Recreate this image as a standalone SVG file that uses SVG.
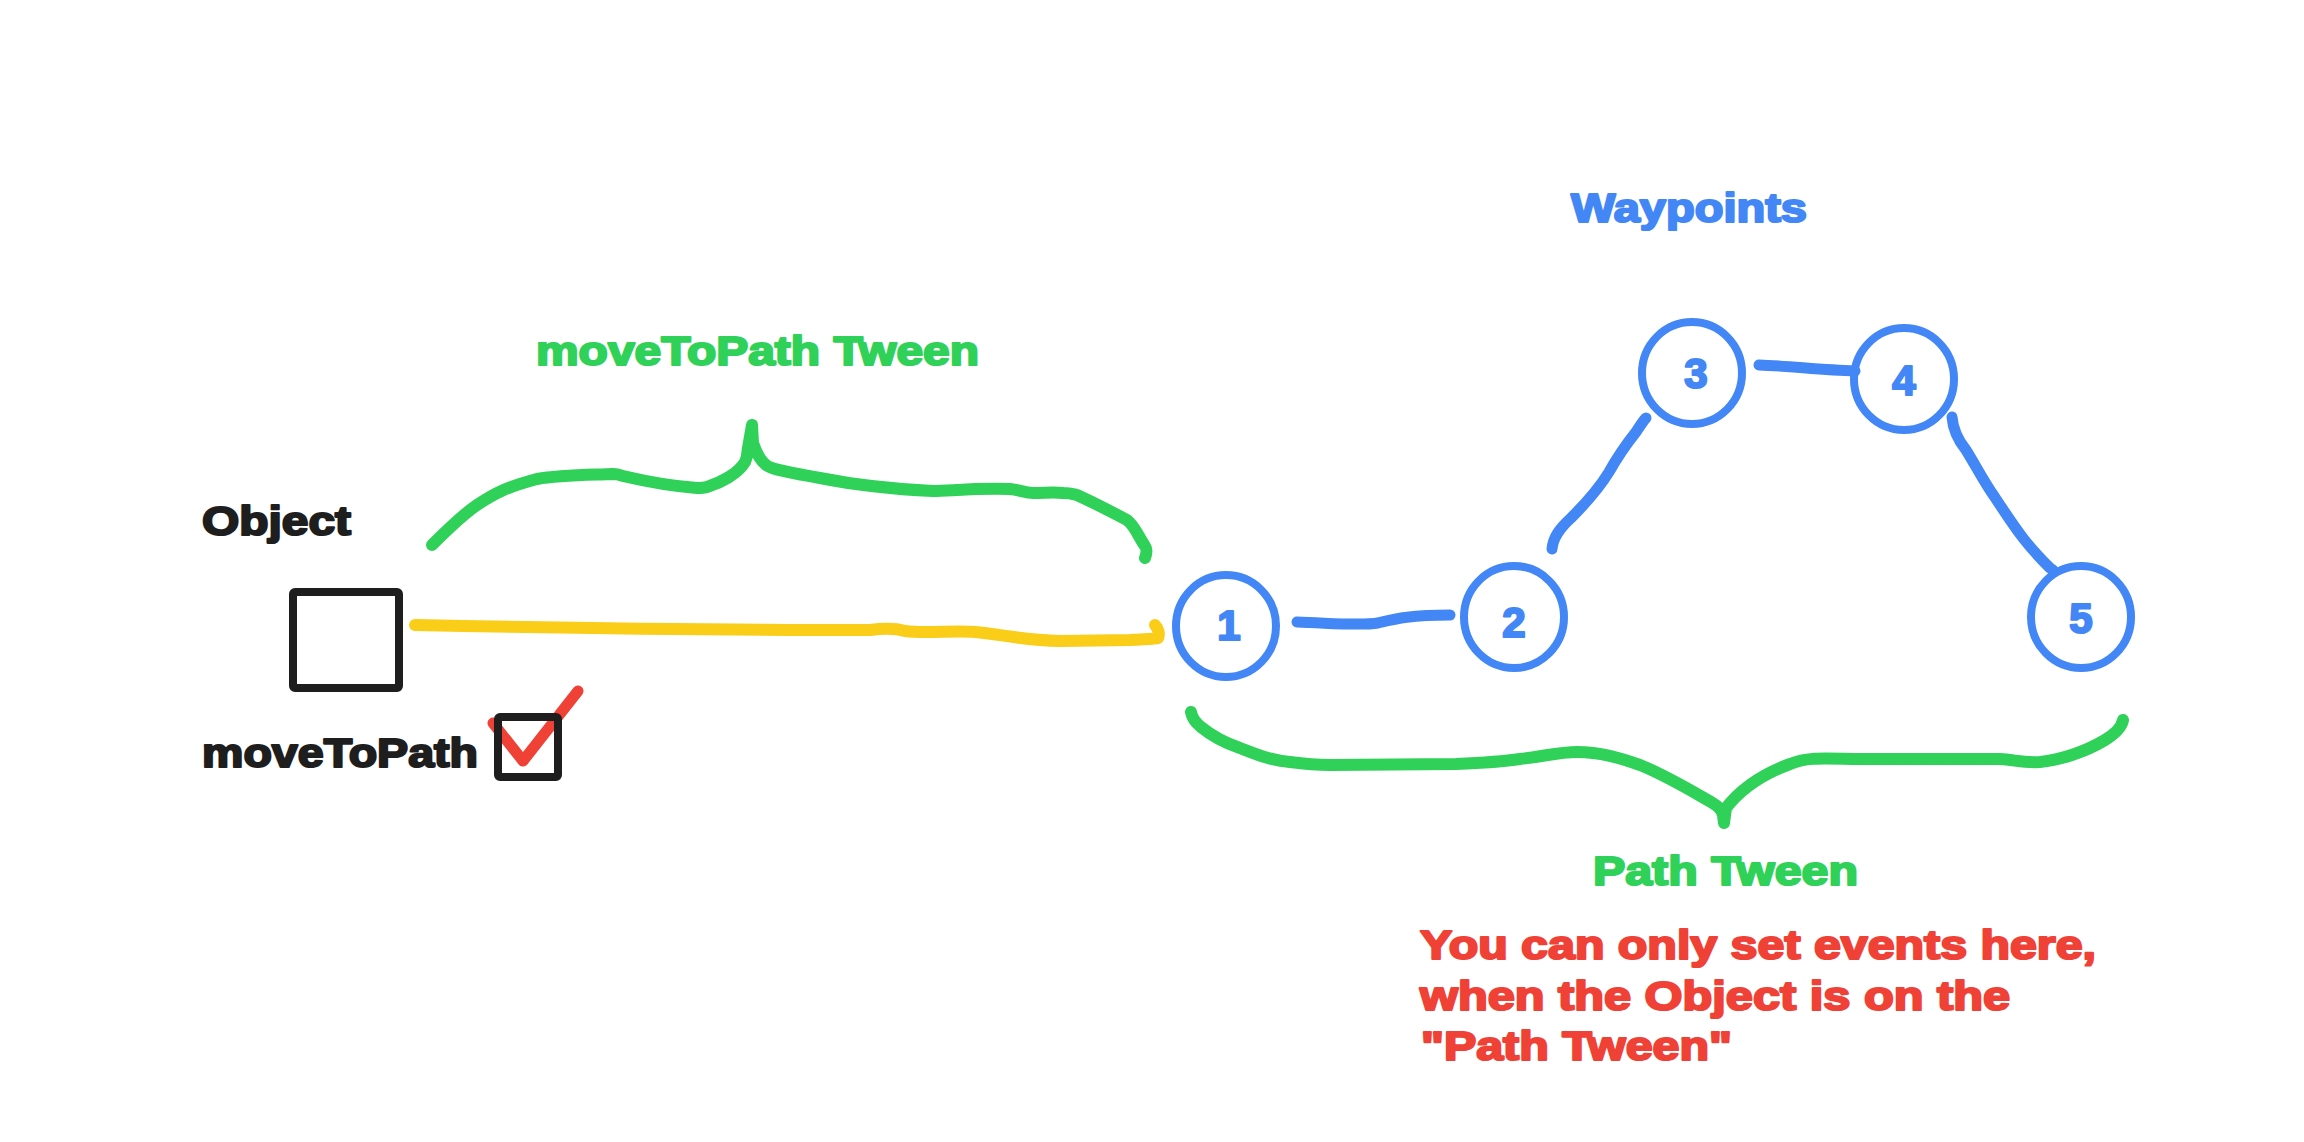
<svg xmlns="http://www.w3.org/2000/svg" width="2304" height="1142" viewBox="0 0 2304 1142">
<style>
.t{font-family:"Liberation Sans",Arial,sans-serif;font-weight:bold;font-size:41px;stroke-width:2.2px;stroke-linejoin:round}
.k{fill:#1e1e1e;stroke:#1e1e1e}
.g{fill:#2fd158;stroke:#2fd158}
.b{fill:#4287f5;stroke:#4287f5}
.r{fill:#ef4136;stroke:#ef4136}
.ring{fill:none;stroke:#4287f5;stroke-width:8}
.ln{fill:none;stroke-linecap:round;stroke-linejoin:round}
.num{text-anchor:middle;font-size:42px}
</style>
<rect width="2304" height="1142" fill="#ffffff"/>

<g id="connectors">
  <path class="ln" stroke="#2fd158" stroke-width="12" d="M432,545 C445,532 462,515 477,505 C495,493 507,487 537,479 C560,475 590,475 613,474 C618,474 620,475 623,476 C640,480 670,486 697,488 C702,488 704,488 707,487 C720,483 738,474 745,462 C748,456 747,452 748,448 L752,425 L753,443 C756,452 760,460 766,465 C770,468 775,470 820,478 C850,484 890,489 933,491 C950,491 970,488 1010,489 C1020,490 1025,493 1033,493 C1045,493 1055,492 1063,493 C1070,493 1073,494 1077,495 C1090,501 1110,511 1127,520 C1135,526 1138,536 1145,546 C1148,550 1146,555 1145,558"/>
  <path class="ln" stroke="#facd19" stroke-width="12" d="M415,625 C520,627 700,630 870,630 C885,628 895,628 905,631 C925,634 955,630 975,632 C1000,634 1020,640 1060,641 L1130,640 C1145,639 1155,639 1158,638 C1160,634 1158,628 1155,625"/>
  <path class="ln" stroke="#2fd158" stroke-width="12" d="M1191,712 C1192,718 1196,723 1201,727 C1212,736 1225,743 1240,748 C1258,755 1270,760 1290,762 C1305,764 1315,765 1330,765 L1456,764 C1480,763 1500,762 1520,759 C1545,756 1560,752 1577,752 C1600,752 1620,758 1640,765 C1665,775 1690,790 1711,802 C1718,806 1722,810 1723,815 L1724,823 L1726,808 C1740,790 1760,775 1790,764 C1805,758 1815,758 1852,759 L2000,759 C2015,760 2025,763 2040,762 C2060,760 2085,752 2105,740 C2118,732 2122,726 2123,720"/>
  <path class="ln" stroke="#4287f5" stroke-width="11" d="M1297,622 C1330,623 1360,626 1378,623 C1395,619 1410,615 1450,615"/>
  <path class="ln" stroke="#4287f5" stroke-width="11" d="M1552,549 C1553,537 1560,528 1571,518 C1585,504 1598,490 1609,472 C1618,456 1628,442 1636,432 C1640,426 1643,421 1646,418"/>
  <path class="ln" stroke="#4287f5" stroke-width="11" d="M1759,365 C1790,366 1820,370 1855,371"/>
  <path class="ln" stroke="#4287f5" stroke-width="11" d="M1952,417 C1953,430 1958,440 1966,450 C1976,466 1984,482 1994,496 C2004,511 2013,525 2023,538 C2033,551 2043,561 2050,568 L2053,570"/>
  <path class="ln" stroke="#ef4136" stroke-width="11" d="M493,723 L523,761 L578,691"/>
</g>

<g id="label-moveToPath-tween">
  <text class="t g" x="536" y="365" textLength="443" lengthAdjust="spacingAndGlyphs">moveToPath Tween</text>
</g>
<g id="label-object">
  <text class="t k" x="202" y="535" textLength="149" lengthAdjust="spacingAndGlyphs">Object</text>
</g>
<g id="object-box">
  <rect x="293" y="592" width="106" height="96" rx="2" fill="none" stroke="#1e1e1e" stroke-width="8"/>
</g>
<g id="label-moveToPath">
  <text class="t k" x="202" y="767" textLength="276" lengthAdjust="spacingAndGlyphs">moveToPath</text>
</g>
<g id="checkbox">
  <rect x="498" y="717" width="60" height="60" rx="2" fill="none" stroke="#1e1e1e" stroke-width="8"/>
</g>
<g id="label-waypoints">
  <text class="t b" x="1571" y="222" textLength="236" lengthAdjust="spacingAndGlyphs">Waypoints</text>
</g>
<g id="wp1">
  <ellipse class="ring" cx="1226" cy="626" rx="50" ry="51"/>
  <text class="t b num" x="1229" y="640">1</text>
</g>
<g id="wp2">
  <ellipse class="ring" cx="1514" cy="617" rx="50" ry="51"/>
  <text class="t b num" x="1514" y="637">2</text>
</g>
<g id="wp3">
  <ellipse class="ring" cx="1692" cy="373" rx="50" ry="51"/>
  <text class="t b num" x="1696" y="388">3</text>
</g>
<g id="wp4">
  <ellipse class="ring" cx="1904" cy="379" rx="50" ry="51"/>
  <text class="t b num" x="1904" y="395">4</text>
</g>
<g id="wp5">
  <ellipse class="ring" cx="2081" cy="617" rx="50" ry="51"/>
  <text class="t b num" x="2081" y="633">5</text>
</g>
<g id="label-path-tween">
  <text class="t g" x="1593" y="885" textLength="265" lengthAdjust="spacingAndGlyphs">Path Tween</text>
</g>
<g id="note">
  <text class="t r" x="1420" y="959" textLength="676" lengthAdjust="spacingAndGlyphs">You can only set events here,</text>
  <text class="t r" x="1420" y="1010" textLength="590" lengthAdjust="spacingAndGlyphs">when the Object is on the</text>
  <text class="t r" x="1421" y="1060" textLength="311" lengthAdjust="spacingAndGlyphs">"Path Tween"</text>
</g>
</svg>
